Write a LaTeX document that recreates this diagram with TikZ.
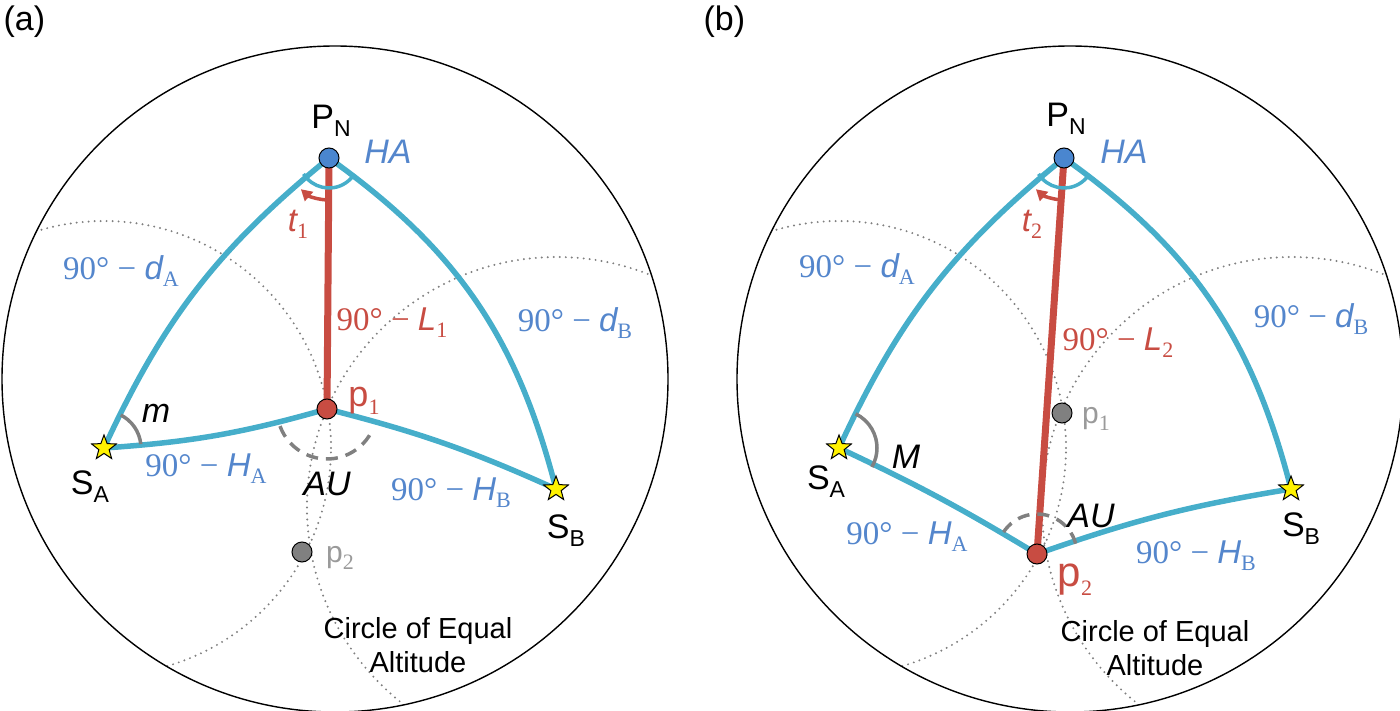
\documentclass[tikz,border=0pt]{standalone}
\usepackage{fontspec}
\setmainfont{Liberation Serif}
\setsansfont{Liberation Sans}
\usetikzlibrary{shapes.geometric,arrows.meta,calc}
\definecolor{arcblue}{RGB}{70,174,202}
\definecolor{labblue}{RGB}{84,134,204}
\definecolor{dotblue}{RGB}{74,134,207}
\definecolor{redc}{RGB}{200,76,66}
\definecolor{grayc}{RGB}{128,128,128}
\newcommand{\sbs}[1]{\raisebox{-0.45ex}{\fontsize{22}{22}\selectfont #1}}
\newcommand{\ssbs}[1]{\raisebox{-0.45ex}{\fontsize{23}{23}\selectfont\sffamily #1}}
\newcommand{\vi}[1]{{\sffamily\itshape #1}}
\tikzset{
  x=1pt,y=1pt,
  big/.style={draw=black,line width=1.4pt},
  eqalt/.style={draw=grayc,line width=2.2pt,line cap=round,dash pattern=on 0pt off 6pt},
  side/.style={draw=arcblue,line width=5.5pt},
  redline/.style={draw=redc,line width=7pt},
  dotn/.style={circle,draw=black,line width=1pt,minimum size=20pt,inner sep=0pt},
  starn/.style={star,star points=5,star point ratio=2.4,fill=yellow,draw=black,line width=1pt,minimum size=26pt,inner sep=0pt},
  bl/.style={text=labblue,font=\fontsize{33}{36}\selectfont},
  rl/.style={text=redc,font=\fontsize{33}{36}\selectfont},
  sl/.style={text=black,font=\fontsize{34}{38}\selectfont\sffamily},
  cl/.style={text=black,font=\fontsize{29}{34}\selectfont\sffamily,align=center},
}
\begin{document}
\begin{tikzpicture}
\useasboundingbox (0,0) rectangle (1400,-711);
% ================= panel (a)
\coordinate (aO) at (335,-379);
\coordinate (aPN) at (329,-158);
\coordinate (aSA) at (104,-448);
\coordinate (aSB) at (556,-489);
\coordinate (ap1) at (327,-409);
\coordinate (ap2) at (302,-552);
\node[sl,anchor=north west] (alab) at (0,-2) {(a)};
\begin{scope}
\clip (aO) circle (333);
\draw[eqalt] (aSA) circle (227);
\draw[eqalt] (557,-507) circle (250);
\end{scope}
\draw[big] (aO) circle (333);
\draw[side] (aPN) to[bend right=13] (aSA);
\draw[side] (aPN) to[bend left=20] (aSB);
\draw[side] (aSA) to[bend right=6] (ap1);
\draw[side] (ap1) to[bend left=5] (aSB);
\draw[redline] (aPN) -- (ap1);
\draw[draw=arcblue,line width=3.5pt] ($(aPN)+(212:30)$) arc (212:328:30);
\draw[draw=redc,line width=3.5pt,-{Triangle[length=11pt,width=12pt]}] ($(aPN)+(270:42)$) arc (270:228:42);
\draw[draw=grayc,line width=3.5pt] ($(aSA)+(6:37)$) arc (6:63:37);
\draw[draw=grayc,line width=3.5pt,dash pattern=on 12pt off 8pt] ($(ap1)+(200:50)$) arc (200:332:50);
\node[dotn,fill=dotblue] (aPNd) at (aPN) {};
\node[dotn,fill=redc] (ap1d) at (ap1) {};
\node[dotn,fill=grayc] (ap2d) at (ap2) {};
\node[starn] (aSAs) at (aSA) {};
\node[starn] (aSBs) at (aSB) {};
\node[sl] (aPNl) at (331,-121) {P\ssbs{N}};
\node[bl,font=\fontsize{34}{38}\selectfont] (aHA) at (388,-152) {\vi{HA}};
\node[rl] (at1) at (298,-224) {\vi{t}\sbs{1}};
\node[bl] (adA) at (121,-271) {90° − \vi{d}\sbs{A}};
\node[rl] (aL1) at (392,-323) {90° − \vi{L}\sbs{1}};
\node[bl] (adB) at (575,-323) {90° − \vi{d}\sbs{B}};
\node[rl,font=\fontsize{36}{40}\selectfont] (ap1l) at (364,-401) {\textsf{p}\sbs{1}};
\node[sl] (am) at (156,-413) {\vi{m}};
\node[sl] (aSAl) at (90,-487) {S\ssbs{A}};
\node[bl] (aHAl) at (206,-469) {90° − \vi{H}\sbs{A}};
\node[sl] (aAU) at (327,-484) {\vi{AU}};
\node[bl] (aHBl) at (451,-493) {90° − \vi{H}\sbs{B}};
\node[sl] (aSBl) at (566,-531) {S\ssbs{B}};
\node[text=grayc!80,font=\fontsize{30}{34}\selectfont] (ap2l) at (340,-558) {\textsf{p}\sbs{2}};
\node[cl] (acea) at (418,-645) {Circle of Equal\\Altitude};
% ================= panel (b)
\coordinate (bO) at (1070,-379);
\coordinate (bPN) at (1064,-158);
\coordinate (bSA) at (839,-448);
\coordinate (bSB) at (1291,-489);
\coordinate (bp1) at (1062,-413);
\coordinate (bp2) at (1037,-554);
\node[sl,anchor=north west] (blab) at (700,-2) {(b)};
\begin{scope}
\clip (bO) circle (333);
\draw[eqalt] (bSA) circle (227);
\draw[eqalt] (1292,-507) circle (250);
\end{scope}
\draw[big] (bO) circle (333);
\draw[side] (bPN) to[bend right=13] (bSA);
\draw[side] (bPN) to[bend left=20] (bSB);
\draw[side] (bSA) to[bend left=3] (bp2);
\draw[side] (bp2) to[bend left=5] (bSB);
\draw[redline] (bPN) -- (bp2);
\draw[draw=arcblue,line width=3.5pt] ($(bPN)+(212:30)$) arc (212:328:30);
\draw[draw=redc,line width=3.5pt,-{Triangle[length=11pt,width=12pt]}] ($(bPN)+(266:42)$) arc (266:228:42);
\draw[draw=grayc,line width=3.5pt] ($(bSA)+(-30:38)$) arc (-30:64:38);
\draw[draw=grayc,line width=3.5pt,dash pattern=on 12pt off 8pt] ($(bp2)+(15:40)$) arc (15:155:40);
\node[dotn,fill=dotblue] (bPNd) at (bPN) {};
\node[dotn,fill=redc] (bp2d) at (bp2) {};
\node[dotn,fill=grayc] (bp1d) at (bp1) {};
\node[starn] (bSAs) at (bSA) {};
\node[starn] (bSBs) at (bSB) {};
\node[sl] (bPNl) at (1066,-119) {P\ssbs{N}};
\node[bl,font=\fontsize{34}{38}\selectfont] (bHA) at (1124,-152) {\vi{HA}};
\node[rl] (bt2) at (1032,-224) {\vi{t}\sbs{2}};
\node[bl] (bdA) at (857,-269) {90° − \vi{d}\sbs{A}};
\node[rl] (bL2) at (1118,-343) {90° − \vi{L}\sbs{2}};
\node[bl] (bdB) at (1311,-319) {90° − \vi{d}\sbs{B}};
\node[text=grayc!80,font=\fontsize{30}{34}\selectfont] (bp1l) at (1096,-419) {\textsf{p}\sbs{1}};
\node[sl] (bM) at (906,-457) {\vi{M}};
\node[sl] (bSAl) at (826,-482) {S\ssbs{A}};
\node[sl] (bAU) at (1091,-516) {\vi{AU}};
\node[bl] (bHAl) at (907,-537) {90° − \vi{H}\sbs{A}};
\node[bl] (bHBl) at (1196,-556) {90° − \vi{H}\sbs{B}};
\node[sl] (bSBl) at (1301,-529) {S\ssbs{B}};
\node[rl,font=\fontsize{42}{46}\selectfont] (bp2l) at (1075,-580) {\textsf{p}\sbs{2}};
\node[cl] (bcea) at (1155,-648) {Circle of Equal\\Altitude};
\end{tikzpicture}
\end{document}
